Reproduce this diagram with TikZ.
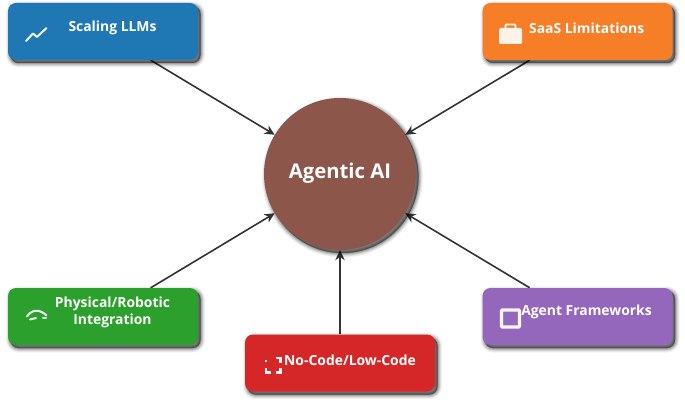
\documentclass[tikz,border=0pt]{standalone}
\usepackage{fontspec}
\setmainfont{Open Sans}
\usetikzlibrary{arrows.meta,backgrounds}
\definecolor{cblue}{HTML}{1F77B4}
\definecolor{corange}{HTML}{F57E26}
\definecolor{cgreen}{HTML}{2CA02C}
\definecolor{cred}{HTML}{D62728}
\definecolor{cpurple}{HTML}{9467BD}
\definecolor{cbrown}{HTML}{8C564B}
\definecolor{cline}{HTML}{333333}
\tikzset{
  softshadow/.style={
    preaction={draw=black,fill=black,opacity=.05,line width=9pt,transform canvas={shift={(2.5pt,-3pt)}}},
    preaction={draw=black,fill=black,opacity=.07,line width=7pt,transform canvas={shift={(2.5pt,-3pt)}}},
    preaction={draw=black,fill=black,opacity=.10,line width=5pt,transform canvas={shift={(2.5pt,-3pt)}}},
    preaction={draw=black,fill=black,opacity=.14,line width=3pt,transform canvas={shift={(2.5pt,-3pt)}}},
    preaction={draw=black,fill=black,opacity=.20,line width=1pt,transform canvas={shift={(2.5pt,-3pt)}}}},
  box/.style={softshadow,rectangle,rounded corners=8pt,minimum width=190pt,minimum height=57pt,inner sep=0pt,draw=none},
  hub/.style={softshadow,circle,minimum size=152pt,inner sep=0pt,draw=none,fill=cbrown},
  boxlabel/.style={text=white,font=\fontsize{13.9pt}{17pt}\selectfont\bfseries,align=center,inner sep=0pt},
  hublabel/.style={text=white,font=\fontsize{20.3pt}{24pt}\selectfont\bfseries,inner sep=0pt},
  link/.style={draw=cline,line width=1.6pt,-{Stealth[length=10pt,width=9.5pt]}},
  icon/.style={draw=white,opacity=.95,line width=2pt},
  iconfill/.style={fill=white,opacity=.9,draw=none}
}
\begin{document}
\begin{tikzpicture}[x=1pt,y=-1pt]
\useasboundingbox (0,0) rectangle (685,403);
\node[hub] (hub) at (340,174) {};
\node[box,fill=cblue] (scaling) at (103,31.5) {};
\node[box,fill=corange] (saas) at (577.5,31.5) {};
\node[box,fill=cgreen] (physical) at (103,316.5) {};
\node[box,fill=cred] (nocode) at (340,363) {};
\node[box,fill=cpurple] (frameworks) at (577.5,316.5) {};
\node[hublabel] (hubtext) at (340,173.5) {Agentic AI};
\node[boxlabel] (t1) at (112.5,28) {Scaling LLMs};
\node[boxlabel] (t2) at (586.7,28) {SaaS Limitations};
\node[boxlabel] (t3) at (112.5,312) {Physical/Robotic\\[0pt]Integration};
\node[boxlabel] (t4) at (350,360) {No-Code/Low-Code};
\node[boxlabel] (t5) at (586.5,312) {Agent Frameworks};
\begin{scope}[on background layer]
\fill[white] (0,0) rectangle (685,403);
\draw[link] (scaling) -- (hub);
\draw[link] (saas) -- (hub);
\draw[link] (physical) -- (hub);
\draw[link] (nocode) -- (hub);
\draw[link] (frameworks) -- (hub);
\end{scope}
% icons
\draw[icon,line join=round,line cap=round] (26,41) -- (33,33.5) -- (37,37) -- (46.5,28);
\fill[iconfill,rounded corners=2pt] (499,28) rectangle (522,44);
\draw[icon,line width=1.8pt,rounded corners=1pt] (505.5,28) -- (505.5,24.5) -- (515.5,24.5) -- (515.5,28);
\draw[icon,line cap=round] (27,316.5) .. controls (32,309) and (40,309) .. (46.5,315.5);
\draw[icon,line cap=round] (30,319.5) -- (36,318);
\draw[icon,line cap=round] (43,318) -- (46,318);
\draw[icon,line width=2.2pt] (266,359.5) -- (266,362) (266,368) -- (266,372.5) -- (271,372.5) (276,372.5) -- (280.5,372.5) -- (280.5,368) (275.5,358) -- (280.5,358) -- (280.5,363);
\draw[icon,line width=3.4pt,rounded corners=1pt] (501.5,310) rectangle (519.5,327);
\end{tikzpicture}
\end{document}
